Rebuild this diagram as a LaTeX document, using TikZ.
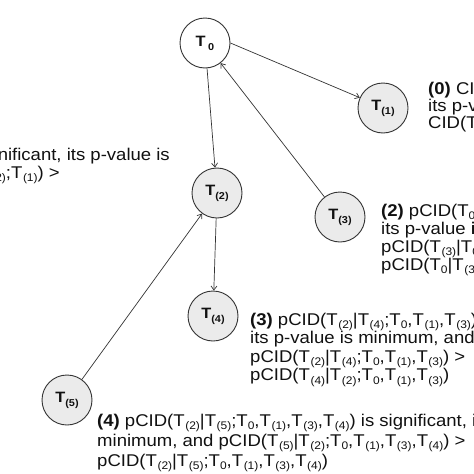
\documentclass[tikz,border=0pt]{standalone}
\usepackage{fontspec}
\setmainfont{Liberation Sans}[FakeStretch=1.09]
\usetikzlibrary{arrows.meta}
\newcommand{\Tsub}[1]{T\kern0.6pt\raisebox{-3.5pt}{\fontsize{11}{11}\selectfont(#1)}}
\newcommand{\Tz}{T\raisebox{-3.5pt}{\fontsize{11}{11}\selectfont 0}}
\newcommand{\NT}[1]{\textbf{T\raisebox{-3.8pt}{\fontsize{10}{10}\selectfont(#1)}}}
\newcommand{\blk}[2]{\vtop{\baselineskip=#1\lineskiplimit=-100pt\lineskip=0pt #2}}
\definecolor{nodefill}{HTML}{EBEBEB}
\definecolor{edgecol}{HTML}{333333}
\definecolor{txtcol}{HTML}{111111}
\tikzset{
  tnode/.style={circle, draw=edgecol, line width=0.9pt, fill=nodefill,
    minimum size=50pt, inner sep=0pt, font=\fontsize{15}{15}\selectfont, text=txtcol},
  arr/.style={draw=edgecol, line width=0.7pt, -{Straight Barb[length=4pt,width=6pt]}},
  blocktxt/.style={inner sep=0pt, anchor=base west, text=txtcol, font=\fontsize{17}{19}\selectfont},
  linetxt/.style={inner sep=0pt, anchor=base east, text=txtcol, font=\fontsize{17}{19}\selectfont}
}
\begin{document}
\begin{tikzpicture}[x=1pt,y=-1pt]
\useasboundingbox (0,0) rectangle (474,474);
\clip (0,0) rectangle (474,474);
\fill[white] (0,0) rectangle (474,474);

\node[tnode, fill=white] (t0) at (205,43) {\textbf{T\,\raisebox{-3.8pt}{\fontsize{10}{10}\selectfont 0}}};
\node[tnode] (t1) at (383,108) {\NT{1}};
\node[tnode] (t2) at (217,193) {\NT{2}};
\node[tnode] (t3) at (340,217) {\NT{3}};
\node[tnode] (t4) at (213,316) {\NT{4}};
\node[tnode] (t5) at (67,400) {\NT{5}};

\draw[arr] (t0.east) -- (t1.156);
\draw[arr] (t0) -- (t2);
\draw[arr] (t3) -- (t0);
\draw[arr] (t2) -- (t4);
\draw[arr] (t5) -- (t2);

\node[blocktxt] (b0) at (428,94) {\blk{17pt}{%
  \hbox{\textbf{(0)} CID(\Tz;\Tsub{1}) is significant,}
  \hbox{its p-value is minimum, and}
  \hbox{CID(\Tz;\Tsub{1}) >}}};

\node[linetxt] (b1a) at (170,160) {\textbf{(1)} pCID(\Tz|\Tsub{2};\Tsub{1}) is significant, its p-value is};
\node[linetxt] (b1b) at (60,178) {minimum, and pCID(\Tz|\Tsub{2};\Tsub{1}) >};

\node[blocktxt] (b2) at (381,216) {\blk{18pt}{%
  \hbox{\textbf{(2)} pCID(\Tz|\Tsub{3};\Tsub{1},\Tsub{2}) is significant,}
  \hbox{its p-value \textbf{is not} minimum, and}
  \hbox{pCID(\Tsub{3}|\Tz;\Tsub{1},\Tsub{2}) >}
  \hbox{pCID(\Tz|\Tsub{3};\Tsub{1},\Tsub{2})}}};

\node[blocktxt] (b3) at (250,325) {\blk{18.5pt}{%
  \hbox{\textbf{(3)} pCID(\Tsub{2}|\Tsub{4};\Tz,\Tsub{1},\Tsub{3}) is significant,}
  \hbox{its p-value is minimum, and}
  \hbox{pCID(\Tsub{2}|\Tsub{4};\Tz,\Tsub{1},\Tsub{3}) >}
  \hbox{pCID(\Tsub{4}|\Tsub{2};\Tz,\Tsub{1},\Tsub{3})}}};

\node[blocktxt] (b4) at (97,426) {\blk{20pt}{%
  \hbox{\textbf{(4)} pCID(\Tsub{2}|\Tsub{5};\Tz,\Tsub{1},\Tsub{3},\Tsub{4}) is significant, its p-value is}
  \hbox{minimum, and pCID(\Tsub{5}|\Tsub{2};\Tz,\Tsub{1},\Tsub{3},\Tsub{4}) >}
  \hbox{pCID(\Tsub{2}|\Tsub{5};\Tz,\Tsub{1},\Tsub{3},\Tsub{4})}}};
\end{tikzpicture}
\end{document}
